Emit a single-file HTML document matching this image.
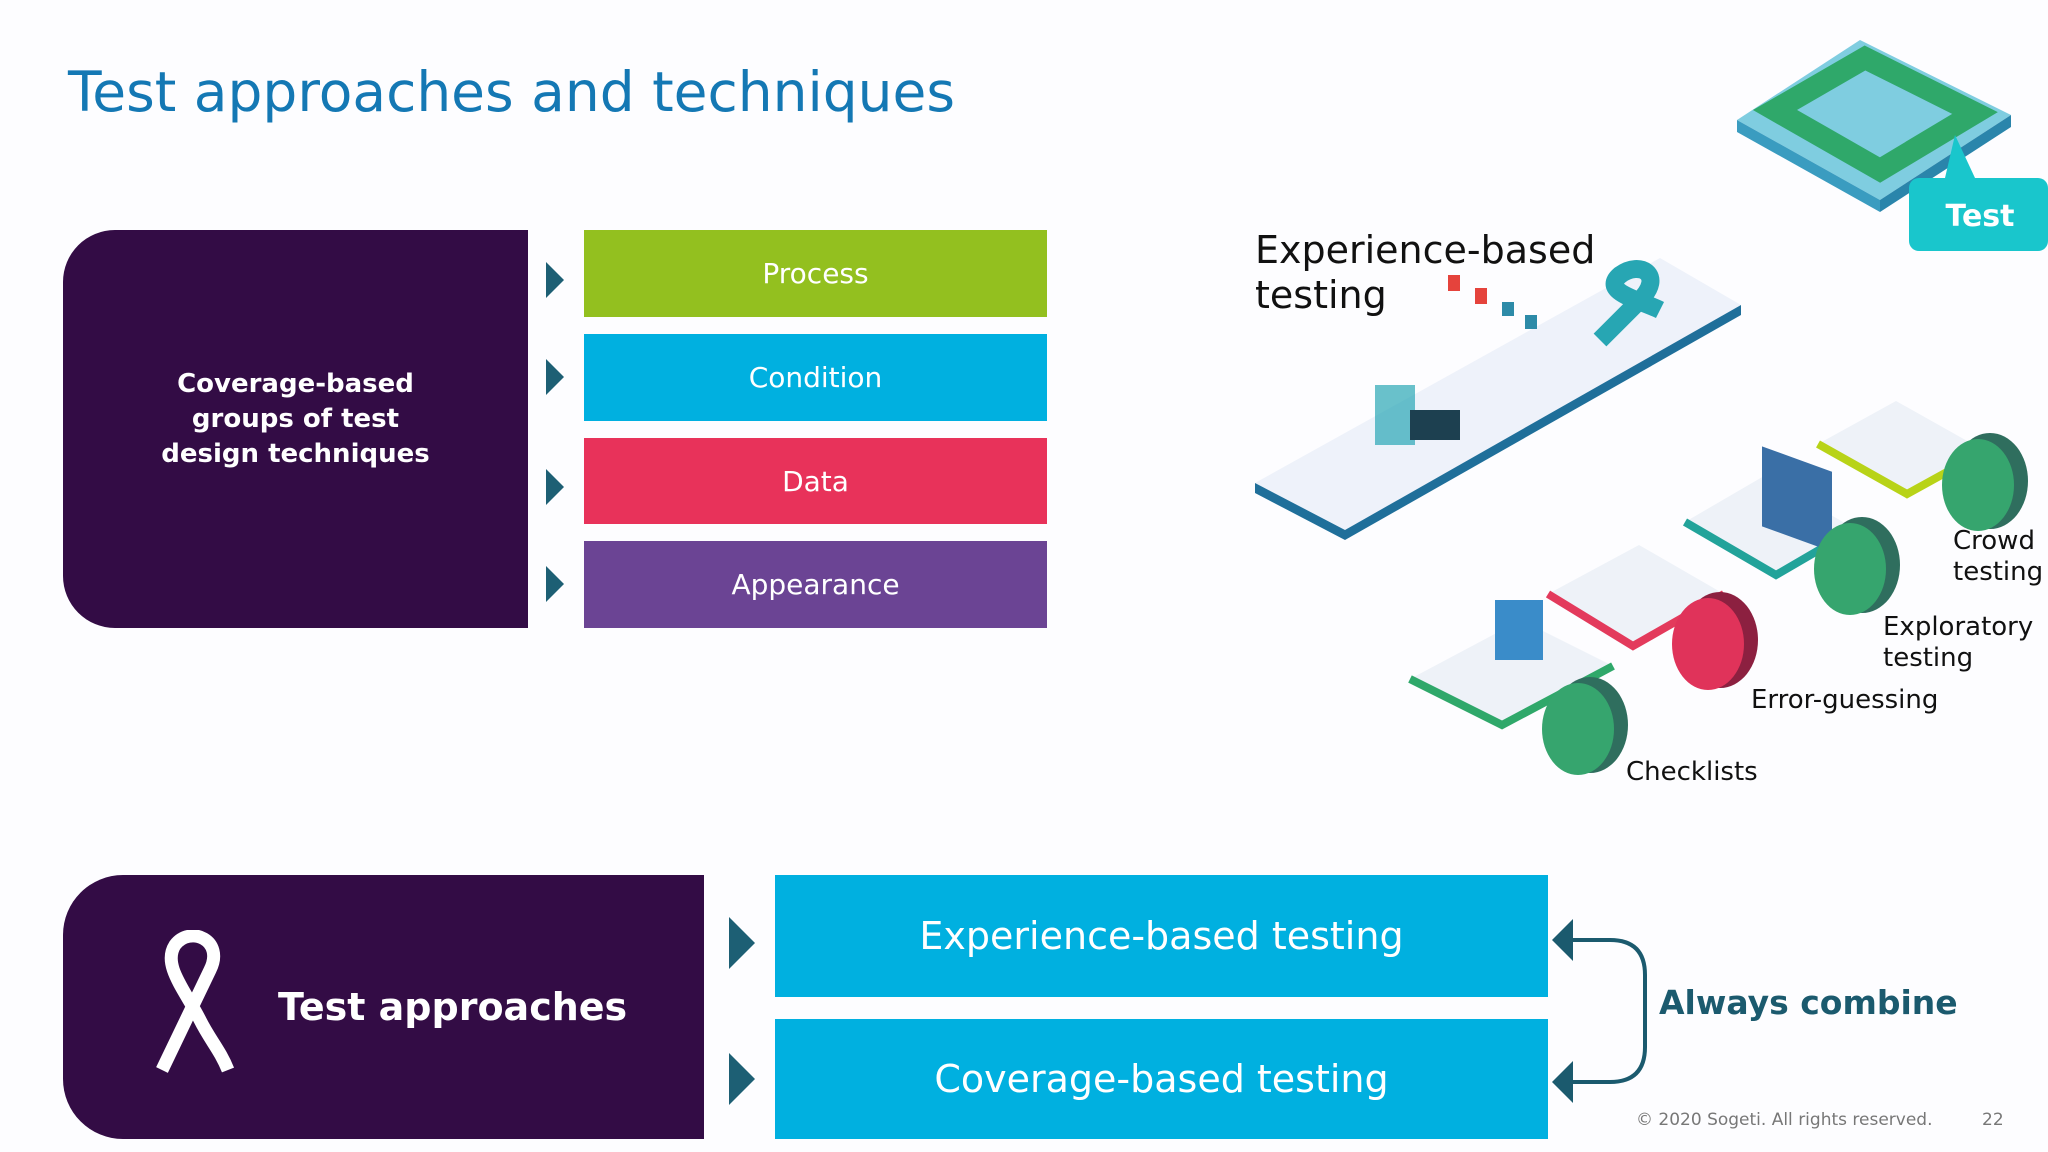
<!DOCTYPE html>
<html><head><meta charset="utf-8"><style>
*{margin:0;padding:0;box-sizing:border-box}
body{width:2048px;height:1152px;background:#fdfdff;position:relative;overflow:hidden;font-family:"DejaVu Sans","Liberation Sans",sans-serif}
.a{position:absolute}
.bar{position:absolute;left:584px;width:463px;color:#fff;font-size:28px;display:flex;align-items:center;justify-content:center}
.tri{position:absolute;width:0;height:0;border-top:18px solid transparent;border-bottom:18px solid transparent;border-left:18px solid #1d5f74}
.tri2{position:absolute;width:0;height:0;border-top:26px solid transparent;border-bottom:26px solid transparent;border-left:26px solid #1d5f74}
.bb{position:absolute;left:775px;width:773px;background:#00b0e0;color:#fff;font-size:38px;display:flex;align-items:center;justify-content:center}
.lbl{position:absolute;font-size:26px;color:#111;line-height:31px}
</style></head><body>
<div class="a" style="left:68px;top:60px;font-size:55px;color:#1478b4;">Test approaches and techniques</div>

<div class="a" style="left:63px;top:230px;width:465px;height:398px;background:#330c45;border-radius:52px 0 0 52px;color:#fff;font-weight:bold;font-size:26px;line-height:35px;text-align:center;display:flex;align-items:center;justify-content:center;padding-bottom:20px">Coverage-based<br>groups of test<br>design techniques</div>
<div class="tri" style="left:546px;top:262px"></div>
<div class="tri" style="left:546px;top:359px"></div>
<div class="tri" style="left:546px;top:469px"></div>
<div class="tri" style="left:546px;top:566px"></div>
<div class="bar" style="top:230px;height:87px;background:#93c01f">Process</div>
<div class="bar" style="top:334px;height:87px;background:#00b0e0">Condition</div>
<div class="bar" style="top:438px;height:86px;background:#e8325a">Data</div>
<div class="bar" style="top:541px;height:87px;background:#6b4494">Appearance</div>

<div class="a" style="left:63px;top:875px;width:641px;height:264px;background:#330c45;border-radius:60px 0 0 60px"></div>
<svg class="a" style="left:140px;top:930px" width="110" height="150" viewBox="0 0 110 150"><path d="M22 140 L70 40 C85 10 50 -5 35 15 C22 35 45 60 60 90 C70 110 80 120 88 140" fill="none" stroke="#fff" stroke-width="13"/></svg>
<div class="a" style="left:278px;top:985px;font-size:38px;font-weight:bold;color:#fff">Test approaches</div>
<div class="tri2" style="left:729px;top:917px"></div>
<div class="tri2" style="left:729px;top:1053px"></div>
<div class="bb" style="top:875px;height:122px">Experience-based testing</div>
<div class="bb" style="top:1019px;height:120px">Coverage-based testing</div>

<svg class="a" style="left:1540px;top:900px" width="140" height="220" viewBox="1540 900 140 220">
<path d="M1570 940 H1610 Q1645 940 1645 975 V1047 Q1645 1082 1610 1082 H1570" fill="none" stroke="#1b5a6e" stroke-width="4"/>
<polygon points="1552,940 1573,919 1573,961" fill="#1b5a6e"/>
<polygon points="1552,1082 1573,1061 1573,1103" fill="#1b5a6e"/>
</svg>
<div class="a" style="left:1659px;top:983px;font-size:33px;font-weight:bold;color:#1b5a6e">Always combine</div>
<div class="a" style="left:1636px;top:1110px;font-size:17px;color:#777">© 2020 Sogeti. All rights reserved.</div>
<div class="a" style="left:1982px;top:1110px;font-size:17px;color:#777">22</div>

<svg class="a" style="left:0;top:0" width="2048" height="1152">
<polygon points="1737,120 1860,40 2011,115 1880,200" fill="#7fcde0"/>
<polygon points="1737,120 1880,200 1880,212 1737,132" fill="#3a9cc0"/>
<polygon points="1880,200 2011,115 2011,127 1880,212" fill="#2a85ab"/>
<polygon points="1775,110 1865,58 1975,113 1880,170" fill="none" stroke="#2fa86a" stroke-width="22"/>
<path d="M1955 135 L1945 178 L1975 178 Z" fill="#19c6cc"/>
<rect x="1909" y="178" width="139" height="73" rx="10" fill="#19c6cc"/>
<text x="1980" y="226" font-size="30" font-weight="bold" fill="#fff" text-anchor="middle" font-family="DejaVu Sans, sans-serif">Test</text>
<polygon points="1255,483 1660,258 1741,305 1345,530" fill="#eef2fa"/>
<polygon points="1255,483 1345,530 1345,540 1255,493" fill="#1f6f9a"/>
<polygon points="1345,530 1741,305 1741,315 1345,540" fill="#1f6f9a"/>
<path d="M1600 340 L1640 300 C1665 275 1640 260 1620 275 C1600 292 1640 300 1660 310" fill="none" stroke="#27a6b3" stroke-width="18"/>
<rect x="1448" y="275" width="12" height="16" fill="#e5433c"/><rect x="1475" y="288" width="12" height="16" fill="#e5433c"/>
<rect x="1502" y="302" width="12" height="14" fill="#2d8ba8"/><rect x="1525" y="315" width="12" height="14" fill="#2d8ba8"/>
<rect x="1375" y="385" width="40" height="60" fill="#2aa6b5" opacity=".7"/>
<rect x="1410" y="410" width="50" height="30" fill="#1d4050"/>
<polygon points="1818,444 1896,401 1985,451 1907,494" fill="#eef2f8"/>
<polyline points="1818,444 1907,494 1985,451" fill="none" stroke="#b8d318" stroke-width="8"/>
<polygon points="1685,522 1764,476 1855,529 1776,575" fill="#eef2f8"/>
<polyline points="1685,522 1776,575 1855,529" fill="none" stroke="#22a39a" stroke-width="8"/>
<rect x="1762" y="425" width="70" height="80" fill="#3a6fa6" transform="skewY(20) translate(0,-620)"/>
<polygon points="1548,594 1639,545 1724,594 1633,646" fill="#eef2f8"/>
<polyline points="1548,594 1633,646 1724,594" fill="none" stroke="#e33a5c" stroke-width="8"/>
<polygon points="1410,679 1521,620 1613,666 1502,725" fill="#eef2f8"/>
<polyline points="1410,679 1502,725 1613,666" fill="none" stroke="#2fa86a" stroke-width="8"/>
<rect x="1495" y="600" width="48" height="60" fill="#3a8cc9"/>
<g>
<ellipse cx="1990" cy="481" rx="38" ry="48" fill="#2f6e5e"/><ellipse cx="1978" cy="485" rx="36" ry="46" fill="#36a56e"/>
<ellipse cx="1862" cy="565" rx="38" ry="48" fill="#2f6e5e"/><ellipse cx="1850" cy="569" rx="36" ry="46" fill="#36a56e"/>
<ellipse cx="1720" cy="640" rx="38" ry="48" fill="#8c2040"/><ellipse cx="1708" cy="644" rx="36" ry="46" fill="#e0335a"/>
<ellipse cx="1590" cy="725" rx="38" ry="48" fill="#2f6e5e"/><ellipse cx="1578" cy="729" rx="36" ry="46" fill="#36a56e"/>
</g>
</svg>
<div class="a" style="left:1255px;top:228px;font-size:38px;line-height:45px;color:#111">Experience-based<br>testing</div>
<div class="lbl" style="left:1953px;top:526px">Crowd<br>testing</div>
<div class="lbl" style="left:1883px;top:612px">Exploratory<br>testing</div>
<div class="lbl" style="left:1751px;top:685px">Error-guessing</div>
<div class="lbl" style="left:1626px;top:757px">Checklists</div>
</body></html>
